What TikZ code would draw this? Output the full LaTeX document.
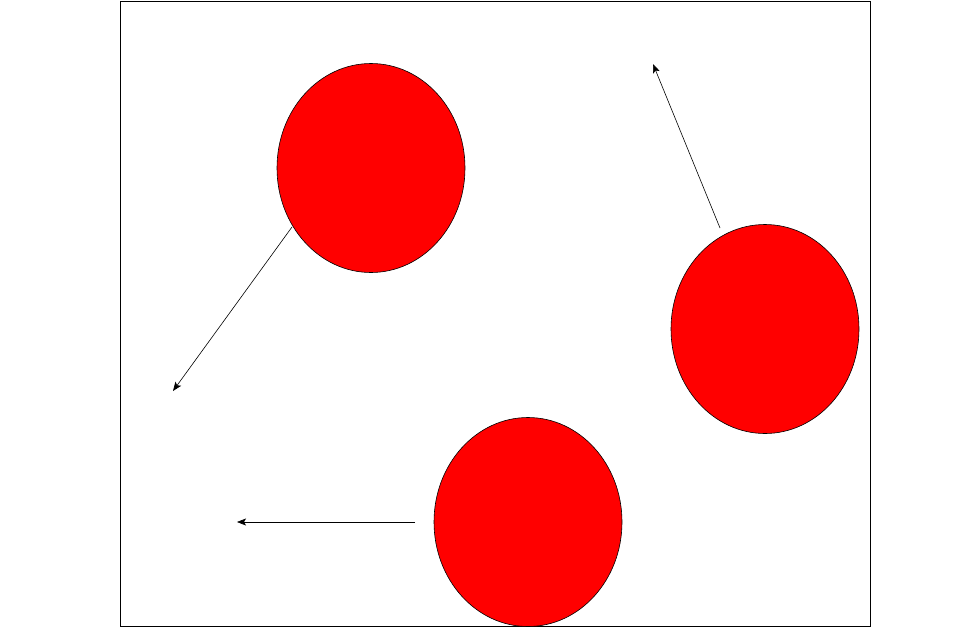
\documentclass[tikz,border=0pt]{standalone}
\usetikzlibrary{shapes.geometric,arrows.meta}
\begin{document}
\begin{tikzpicture}[x=1pt,y=-1pt,
  ball/.style={ellipse,draw=black,line width=0.6pt,fill={rgb,255:red,255;green,0;blue,0},minimum width=188pt,minimum height=209pt,inner sep=0pt},
  arr/.style={draw=black,line width=0.6pt,-{Stealth[length=9pt,width=7pt,inset=2pt]}},
  frame/.style={draw=black,line width=0.9pt}]
\useasboundingbox (0,0) rectangle (956,627);
\draw[frame] (120.5,1.5) rectangle (870,626);
\node[ball] (e1) at (371,168) {};
\node[ball] (e2) at (765,329) {};
\node[ball] (e3) at (528,522) {};
\coordinate (s1) at (292,227);
\coordinate (t1) at (173,391);
\coordinate (s2) at (720,228);
\coordinate (t2) at (653,64);
\coordinate (s3) at (415,522);
\coordinate (t3) at (237,522);
\draw[arr] (s1) -- (t1);
\draw[arr] (s2) -- (t2);
\draw[arr] (s3) -- (t3);
\end{tikzpicture}
\end{document}
